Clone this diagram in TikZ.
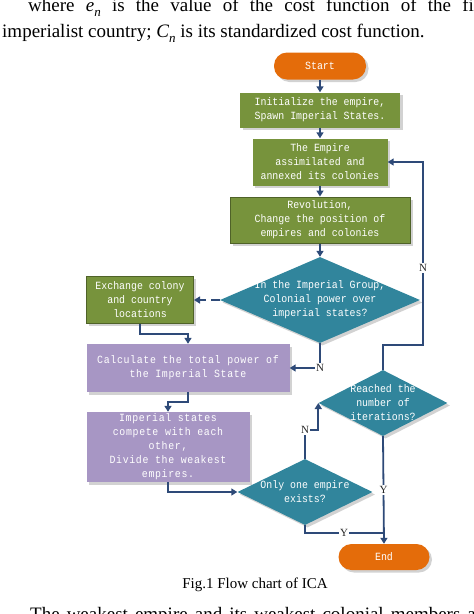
\documentclass[tikz,border=0pt]{standalone}
\usepackage{fontspec}
\setmainfont{Liberation Serif}
\newfontfamily\boxfont[FakeStretch=0.9]{Liberation Mono}
\usetikzlibrary{shapes.geometric,arrows.meta,shadows}
\definecolor{cOrange}{HTML}{E46C0A}
\definecolor{cGreen}{HTML}{77933C}
\definecolor{cGreenDark}{HTML}{4F6228}
\definecolor{cTeal}{HTML}{31859C}
\definecolor{cPurple}{HTML}{A796C4}
\definecolor{cArrow}{HTML}{2E4A78}
\begin{document}
\begin{tikzpicture}[x=1pt,y=-1pt,
  shad/.style={drop shadow={shadow xshift=2.5pt,shadow yshift=-2.5pt,fill=black!35,opacity=0.5}},
  bfont/.style={font={\boxfont\fontsize{11pt}{14pt}\selectfont}},
  term/.style={rectangle, rounded corners=13pt, fill=cOrange, text=white, inner sep=0pt, shad, bfont},
  gbox/.style={rectangle, fill=cGreen, text=white, align=center, inner sep=0pt, shad, bfont},
  gboxd/.style={gbox, draw=cGreenDark, line width=1pt},
  pbox/.style={rectangle, fill=cPurple, text=white, align=center, inner sep=0pt, shad,
     font={\boxfont\addfontfeature{LetterSpace=6}\fontsize{11pt}{14pt}\selectfont}},
  dia/.style={diamond, fill=cTeal, inner sep=0pt, shad},
  dtxt/.style={text=white, align=center, inner sep=0pt, bfont},
  ln/.style={draw=cArrow, line width=1.8pt},
  arr/.style={ln, -{Triangle[width=7pt,length=6pt]}},
  lbl/.style={fill=white, inner sep=1pt, text=black!85, font={\fontsize{11pt}{12pt}\selectfont}},
  body/.style={inner sep=0pt, anchor=base west, font={\fontsize{19pt}{22pt}\selectfont}}
]
\useasboundingbox (0,0) rectangle (474,614);
\clip (0,0) rectangle (474,614);

% surrounding page text
\node[body] (t1) at (28,11) {\makebox[452pt][s]{where \textit{e}\raisebox{-5pt}{\fontsize{13pt}{13pt}\selectfont\textit{n}} is the value of the cost function of the fir}};
\node[body] (t2) at (2,37) {imperialist country; \textit{C}\raisebox{-5pt}{\fontsize{13pt}{13pt}\selectfont\textit{n}}\ is its standardized cost function.};
\node[inner sep=0pt, anchor=base, font={\fontsize{15pt}{17pt}\selectfont}] (cap) at (255,588) {Fig.1 Flow chart of ICA};
\node[body] (t3) at (30,620) {\makebox[452pt][s]{The weakest empire and its weakest colonial members ar}};

% nodes
\node[term, minimum width=92pt, minimum height=27pt] (start) at (320,66) {Start};
\node[gbox, minimum width=160pt, minimum height=35pt] (init) at (320,110) {Initialize the empire,\\Spawn Imperial States.};
\node[gbox, minimum width=135pt, minimum height=47pt] (emp) at (320,162) {The Empire\\assimilated and\\annexed its colonies};
\node[gboxd, minimum width=180pt, minimum height=46pt] (rev) at (320,220) {Revolution,\\Change the position of\\empires and colonies};
\node[dia, minimum width=200pt, minimum height=86pt] (d1) at (320,300) {};
\node[dtxt] (d1t) at (d1.center) {In the Imperial Group,\\Colonial power over\\imperial states?};
\node[gboxd, minimum width=107pt, minimum height=47pt] (exch) at (140,300) {Exchange colony\\and country\\locations};
\node[pbox, minimum width=203pt, minimum height=48pt] (calc) at (188,368) {Calculate the total power of\\the Imperial State};
\node[pbox, minimum width=163pt, minimum height=70pt] (comp) at (168,447) {Imperial states\\compete with each\\other,\\Divide the weakest\\empires.};
\node[dia, minimum width=135pt, minimum height=66pt] (d2) at (305,492) {};
\node[dtxt] (d2t) at (d2.center) {Only one empire\\exists?};
\node[dia, minimum width=129pt, minimum height=66pt] (d3) at (383,403) {};
\node[dtxt] (d3t) at (d3.center) {Reached the\\number of\\iterations?};
\node[term, minimum width=91pt, minimum height=26pt] (end) at (384,557) {End};

% connectors
\draw[arr] (start) -- (init);
\draw[arr] (init) -- (emp);
\draw[arr] (emp) -- (rev);
\draw[arr] (rev) -- (d1);
\draw[arr, dashed, dash pattern=on 9pt off 5pt] (d1.west) -- (exch.east);
\draw[arr] (d1.south) |- node[lbl] (n1) {N} (calc.east);
\draw[arr] (exch.south) -- ++(0,10) -| (calc.north);
\draw[arr] (calc.south) -- ++(0,10) -| (comp.north);
\draw[arr] (comp.south) |- (d2.west);
\coordinate (cn3) at (305,430);
\draw[arr] (d2.north) -- (cn3) -| (d3.west);
\node[lbl] (n3) at (cn3) {N};
\coordinate (cr1) at (423,345);
\draw[arr] (d3.north) |- (cr1) |- (emp.east);
\node[lbl] (n2) at (423,268) {N};
\draw[arr] (d3.south) -- node[lbl, pos=0.5] (y1) {Y} (end.north);
\coordinate (cy2) at (383,533);
\draw[ln] (d2.south) |- node[lbl, pos=0.75] (y2) {Y} (cy2);
\end{tikzpicture}
\end{document}
